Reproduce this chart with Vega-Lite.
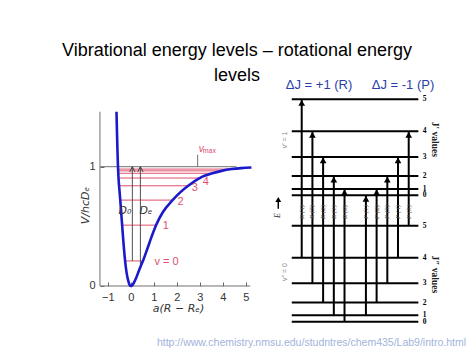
{
  "$schema": "https://vega.github.io/schema/vega-lite/v6.json",
  "width": 474,
  "height": 355,
  "autosize": {"type": "none"},
  "padding": 0,
  "background": "white",
  "config": {"view": {"stroke": null}, "font": "Liberation Sans"},
  "title": {"text": ["Vibrational energy levels – rotational energy", "levels"], "fontSize": 18, "fontWeight": "normal", "font": "Liberation Sans", "color": "#000000", "anchor": "middle", "offset": -85, "lineHeight": 25},
  "datasets": {
    "maxes": [
      {"x": -1.339, "x2": 5.2, "V": 0, "V2": 0},
      {"x": -1.339, "x2": -1.339, "V": 0, "V2": 1.461},
      {"x": -1.339, "x2": 4.6, "V": 1, "V2": 1},
      {"x": 2.91, "x2": 2.91, "V": 1, "V2": 1.1}
    ],
    "levels": [
      {"v": 0, "V": 0.21, "xl": -0.245, "xr": 0.53},
      {"v": 1, "V": 0.51, "xl": -0.375, "xr": 1.1},
      {"v": 2, "V": 0.72, "xl": -0.457, "xr": 1.82},
      {"v": 3, "V": 0.84, "xl": -0.51, "xr": 2.5},
      {"v": 4, "V": 0.905, "xl": -0.53, "xr": 3.0},
      {"v": 5, "V": 0.945, "xl": -0.54, "xr": 3.55},
      {"v": 6, "V": 0.965, "xl": -0.545, "xr": 3.95},
      {"v": 7, "V": 0.98, "xl": -0.55, "xr": 4.4}
    ],
    "curve": [
      {"x": -0.62, "V": 1.46}, {"x": -0.6, "V": 1.3}, {"x": -0.58, "V": 1.15}, {"x": -0.555, "V": 1.0},
      {"x": -0.53, "V": 0.9}, {"x": -0.49, "V": 0.8}, {"x": -0.44, "V": 0.68}, {"x": -0.39, "V": 0.55},
      {"x": -0.34, "V": 0.42}, {"x": -0.29, "V": 0.3}, {"x": -0.24, "V": 0.2}, {"x": -0.18, "V": 0.11},
      {"x": -0.11, "V": 0.045}, {"x": -0.05, "V": 0.01}, {"x": 0, "V": 0}, {"x": 0.06, "V": 0.005},
      {"x": 0.13, "V": 0.025}, {"x": 0.22, "V": 0.06}, {"x": 0.32, "V": 0.11}, {"x": 0.42, "V": 0.16},
      {"x": 0.53, "V": 0.21}, {"x": 0.7, "V": 0.3}, {"x": 0.9, "V": 0.41}, {"x": 1.1, "V": 0.51},
      {"x": 1.4, "V": 0.62}, {"x": 1.82, "V": 0.72}, {"x": 2.15, "V": 0.785}, {"x": 2.5, "V": 0.84},
      {"x": 3.0, "V": 0.905}, {"x": 3.55, "V": 0.945}, {"x": 3.95, "V": 0.965}, {"x": 4.4, "V": 0.98},
      {"x": 4.8, "V": 0.988}, {"x": 5.25, "V": 0.993}
    ],
    "darrows": [
      {"name": "D0", "x": 0.07, "V1": 0.21, "V2": 1.0},
      {"name": "De", "x": 0.42, "V1": 0.16, "V2": 1.0}
    ],
    "plabels": [
      {"t": "v = 0", "x": 1.56, "V": 0.2},
      {"t": "1", "x": 1.53, "V": 0.5},
      {"t": "2", "x": 2.17, "V": 0.7},
      {"t": "3", "x": 2.79, "V": 0.82},
      {"t": "4", "x": 3.26, "V": 0.875}
    ],
    "dlabels": [
      {"t": "D₀", "x": -0.25, "V": 0.625},
      {"t": "Dₑ", "x": 0.66, "V": 0.625}
    ],
    "vmaxv": [{"t": "v", "x": 3.07, "V": 1.15}],
    "vmaxs": [{"t": "max", "x": 3.42, "V": 1.135}],
    "jlev": [
      {"state": "upper", "J": 0, "E": 39.5}, {"state": "upper", "J": 1, "E": 41.5}, {"state": "upper", "J": 2, "E": 45.5},
      {"state": "upper", "J": 3, "E": 51.5}, {"state": "upper", "J": 4, "E": 59.5}, {"state": "upper", "J": 5, "E": 69.5},
      {"state": "lower", "J": 0, "E": 0}, {"state": "lower", "J": 1, "E": 2}, {"state": "lower", "J": 2, "E": 6},
      {"state": "lower", "J": 3, "E": 12}, {"state": "lower", "J": 4, "E": 20}, {"state": "lower", "J": 5, "E": 30}
    ],
    "trans": [
      {"label": "R (4)", "k": 0, "Elow": 20, "Eup": 69.5},
      {"label": "R (3)", "k": 1, "Elow": 12, "Eup": 59.5},
      {"label": "R (2)", "k": 2, "Elow": 6, "Eup": 51.5},
      {"label": "R (1)", "k": 3, "Elow": 2, "Eup": 45.5},
      {"label": "R (0)", "k": 4, "Elow": 0, "Eup": 41.5},
      {"label": "P (1)", "k": 6, "Elow": 2, "Eup": 39.5},
      {"label": "P (2)", "k": 7, "Elow": 6, "Eup": 41.5},
      {"label": "P (3)", "k": 8, "Elow": 12, "Eup": 45.5},
      {"label": "P (4)", "k": 9, "Elow": 20, "Eup": 51.5},
      {"label": "P (5)", "k": 10, "Elow": 30, "Eup": 59.5}
    ],
    "earrow": [{"k": -2.19, "E1": 35.3, "E2": 38.2}],
    "vlabels": [
      {"t": "v′ = 1", "k": -1.56, "E": 56.8},
      {"t": "v″ = 0", "k": -1.56, "E": 15.5}
    ],
    "jvalues": [
      {"t": "J′ values", "k": 12.5, "E": 57},
      {"t": "J″ values", "k": 12.5, "E": 14.8}
    ],
    "dj": [
      {"t": "ΔJ = +1 (R)", "k": 1.62, "E": 74},
      {"t": "ΔJ = -1 (P)", "k": 9.47, "E": 74}
    ],
    "elabel": [{"t": "E", "k": -2.19, "E": 33.2}]
  },
  "layer": [
    {
      "layer": [
        {
          "data": {"name": "maxes"},
          "mark": {"type": "rule", "color": "#707070", "strokeWidth": 1},
          "encoding": {
            "x": {"field": "x", "type": "quantitative", "scale": {"domain": [-5.687, 14.93], "nice": false, "zero": false},
              "axis": {"orient": "bottom", "values": [-1, 0, 1, 2, 3, 4, 5], "format": "d", "domain": false, "grid": false, "offset": -69, "tickSize": -4, "tickColor": "#666666",
                "labelColor": "#333333", "labelFontSize": 11, "labelPadding": 9, "labelFont": "Liberation Sans",
                "title": "a(R − Rₑ)", "titleFont": "DejaVu Sans", "titleFontStyle": "italic", "titleFontWeight": "normal", "titleFontSize": 11, "titleColor": "#333333",
                "titleX": 178, "titleY": 22, "titleBaseline": "middle", "titleAlign": "center"}},
            "x2": {"field": "x2"},
            "y": {"field": "V", "type": "quantitative", "scale": {"domain": [-0.5784, 2.3973], "nice": false, "zero": false},
              "axis": {"orient": "left", "values": [0, 1], "format": "d", "domain": false, "grid": false, "offset": -100, "tickSize": -4, "tickColor": "#666666",
                "labelColor": "#333333", "labelFontSize": 11, "labelPadding": 9, "labelFont": "Liberation Sans",
                "title": "V/hcDₑ", "titleFont": "DejaVu Sans", "titleFontStyle": "italic", "titleFontWeight": "normal", "titleFontSize": 11, "titleColor": "#333333",
                "titleX": -15, "titleY": 205, "titleAngle": 270, "titleBaseline": "middle", "titleAlign": "center"}},
            "y2": {"field": "V2"}
          }
        },
        {
          "data": {"name": "levels"},
          "mark": {"type": "rule", "color": "#e0506e", "strokeWidth": 1},
          "encoding": {
            "x": {"field": "xl", "type": "quantitative", "scale": {"domain": [-5.687, 14.93], "nice": false, "zero": false}},
            "x2": {"field": "xr"},
            "y": {"field": "V", "type": "quantitative", "scale": {"domain": [-0.5784, 2.3973], "nice": false, "zero": false}}
          }
        },
        {
          "data": {"name": "darrows"},
          "mark": {"type": "rule", "color": "#505050", "strokeWidth": 1},
          "encoding": {
            "x": {"field": "x", "type": "quantitative", "scale": {"domain": [-5.687, 14.93], "nice": false, "zero": false}},
            "y": {"field": "V1", "type": "quantitative", "scale": {"domain": [-0.5784, 2.3973], "nice": false, "zero": false}},
            "y2": {"field": "V2"}
          }
        },
        {
          "data": {"name": "darrows"},
          "mark": {"type": "point", "shape": "M-1,1L0,-1L1,1", "filled": false, "stroke": "#404040", "strokeWidth": 1, "size": 28, "yOffset": 2.6, "opacity": 1},
          "encoding": {
            "x": {"field": "x", "type": "quantitative", "scale": {"domain": [-5.687, 14.93], "nice": false, "zero": false}},
            "y": {"field": "V2", "type": "quantitative", "scale": {"domain": [-0.5784, 2.3973], "nice": false, "zero": false}}
          }
        },
        {
          "data": {"name": "curve"},
          "mark": {"type": "line", "color": "#1a1acc", "strokeWidth": 2.6, "interpolate": "monotone"},
          "encoding": {
            "x": {"field": "x", "type": "quantitative", "scale": {"domain": [-5.687, 14.93], "nice": false, "zero": false}},
            "y": {"field": "V", "type": "quantitative", "scale": {"domain": [-0.5784, 2.3973], "nice": false, "zero": false}}
          }
        },
        {
          "data": {"name": "plabels"},
          "mark": {"type": "text", "color": "#e0506e", "fontSize": 11, "align": "center", "baseline": "middle", "font": "Liberation Sans"},
          "encoding": {
            "x": {"field": "x", "type": "quantitative", "scale": {"domain": [-5.687, 14.93], "nice": false, "zero": false}},
            "y": {"field": "V", "type": "quantitative", "scale": {"domain": [-0.5784, 2.3973], "nice": false, "zero": false}},
            "text": {"field": "t"}
          }
        },
        {
          "data": {"name": "dlabels"},
          "mark": {"type": "text", "color": "#333333", "fontSize": 11, "fontStyle": "italic", "align": "center", "baseline": "middle", "font": "DejaVu Sans"},
          "encoding": {
            "x": {"field": "x", "type": "quantitative", "scale": {"domain": [-5.687, 14.93], "nice": false, "zero": false}},
            "y": {"field": "V", "type": "quantitative", "scale": {"domain": [-0.5784, 2.3973], "nice": false, "zero": false}},
            "text": {"field": "t"}
          }
        },
        {
          "data": {"name": "vmaxv"},
          "mark": {"type": "text", "color": "#e0506e", "fontSize": 10, "fontStyle": "italic", "align": "center", "baseline": "middle"},
          "encoding": {
            "x": {"field": "x", "type": "quantitative", "scale": {"domain": [-5.687, 14.93], "nice": false, "zero": false}},
            "y": {"field": "V", "type": "quantitative", "scale": {"domain": [-0.5784, 2.3973], "nice": false, "zero": false}},
            "text": {"field": "t"}
          }
        },
        {
          "data": {"name": "vmaxs"},
          "mark": {"type": "text", "color": "#e0506e", "fontSize": 7, "align": "center", "baseline": "middle"},
          "encoding": {
            "x": {"field": "x", "type": "quantitative", "scale": {"domain": [-5.687, 14.93], "nice": false, "zero": false}},
            "y": {"field": "V", "type": "quantitative", "scale": {"domain": [-0.5784, 2.3973], "nice": false, "zero": false}},
            "text": {"field": "t"}
          }
        }
      ]
    },
    {
      "layer": [
        {
          "data": {"name": "jlev"},
          "mark": {"type": "rule", "color": "#000000", "strokeWidth": 2},
          "encoding": {
            "x": {"datum": -0.93, "type": "quantitative", "scale": {"domain": [-28.196, 16.101], "nice": false, "zero": false},
              "axis": {"orient": "bottom", "domain": false, "ticks": false, "labels": false, "grid": false,
                "title": "http://www.chemistry.nmsu.edu/studntres/chem435/Lab9/intro.html", "titleFont": "Liberation Sans", "titleFontSize": 10.5, "titleFontWeight": "normal", "titleColor": "#9fb3dc",
                "titleX": 311, "titleY": -13, "titleBaseline": "middle", "titleAlign": "center"}},
            "x2": {"datum": 10.9},
            "y": {"field": "E", "type": "quantitative", "scale": {"domain": [-10.406, 100.53], "nice": false, "zero": false}, "axis": null}
          }
        },
        {
          "data": {"name": "jlev"},
          "mark": {"type": "text", "font": "Liberation Serif", "fontWeight": "bold", "fontSize": 7.5, "align": "left", "baseline": "middle", "color": "#000000"},
          "encoding": {
            "x": {"datum": 11.3, "type": "quantitative", "scale": {"domain": [-28.196, 16.101], "nice": false, "zero": false}},
            "y": {"field": "E", "type": "quantitative", "scale": {"domain": [-10.406, 100.53], "nice": false, "zero": false}},
            "text": {"field": "J"}
          }
        },
        {
          "data": {"name": "trans"},
          "mark": {"type": "rule", "color": "#000000", "strokeWidth": 2},
          "encoding": {
            "x": {"field": "k", "type": "quantitative", "scale": {"domain": [-28.196, 16.101], "nice": false, "zero": false}},
            "y": {"field": "Elow", "type": "quantitative", "scale": {"domain": [-10.406, 100.53], "nice": false, "zero": false}},
            "y2": {"field": "Eup"}
          }
        },
        {
          "data": {"name": "trans"},
          "mark": {"type": "point", "shape": "triangle-up", "filled": true, "color": "#000000", "size": 45, "yOffset": 3.5, "opacity": 1},
          "encoding": {
            "x": {"field": "k", "type": "quantitative", "scale": {"domain": [-28.196, 16.101], "nice": false, "zero": false}},
            "y": {"field": "Eup", "type": "quantitative", "scale": {"domain": [-10.406, 100.53], "nice": false, "zero": false}}
          }
        },
        {
          "data": {"name": "trans"},
          "mark": {"type": "text", "font": "Liberation Serif", "fontStyle": "italic", "fontSize": 7, "angle": 270, "align": "center", "baseline": "middle", "color": "#555555"},
          "encoding": {
            "x": {"field": "k", "type": "quantitative", "scale": {"domain": [-28.196, 16.101], "nice": false, "zero": false}},
            "y": {"datum": 34.3, "type": "quantitative", "scale": {"domain": [-10.406, 100.53], "nice": false, "zero": false}},
            "text": {"field": "label"}
          }
        },
        {
          "data": {"name": "earrow"},
          "mark": {"type": "rule", "color": "#000000", "strokeWidth": 1.5},
          "encoding": {
            "x": {"field": "k", "type": "quantitative", "scale": {"domain": [-28.196, 16.101], "nice": false, "zero": false}},
            "y": {"field": "E1", "type": "quantitative", "scale": {"domain": [-10.406, 100.53], "nice": false, "zero": false}},
            "y2": {"field": "E2"}
          }
        },
        {
          "data": {"name": "earrow"},
          "mark": {"type": "point", "shape": "triangle-up", "filled": true, "color": "#000000", "size": 35, "yOffset": 0, "opacity": 1},
          "encoding": {
            "x": {"field": "k", "type": "quantitative", "scale": {"domain": [-28.196, 16.101], "nice": false, "zero": false}},
            "y": {"field": "E2", "type": "quantitative", "scale": {"domain": [-10.406, 100.53], "nice": false, "zero": false}}
          }
        },
        {
          "data": {"name": "elabel"},
          "mark": {"type": "text", "font": "Liberation Serif", "fontStyle": "italic", "fontSize": 8, "angle": 270, "align": "center", "baseline": "middle", "color": "#333333"},
          "encoding": {
            "x": {"field": "k", "type": "quantitative", "scale": {"domain": [-28.196, 16.101], "nice": false, "zero": false}},
            "y": {"field": "E", "type": "quantitative", "scale": {"domain": [-10.406, 100.53], "nice": false, "zero": false}},
            "text": {"field": "t"}
          }
        },
        {
          "data": {"name": "vlabels"},
          "mark": {"type": "text", "font": "Liberation Sans", "fontSize": 7, "angle": 270, "align": "center", "baseline": "middle", "color": "#888888"},
          "encoding": {
            "x": {"field": "k", "type": "quantitative", "scale": {"domain": [-28.196, 16.101], "nice": false, "zero": false}},
            "y": {"field": "E", "type": "quantitative", "scale": {"domain": [-10.406, 100.53], "nice": false, "zero": false}},
            "text": {"field": "t"}
          }
        },
        {
          "data": {"name": "jvalues"},
          "mark": {"type": "text", "font": "Liberation Serif", "fontWeight": "bold", "fontSize": 9.5, "angle": 90, "align": "center", "baseline": "middle", "color": "#222222"},
          "encoding": {
            "x": {"field": "k", "type": "quantitative", "scale": {"domain": [-28.196, 16.101], "nice": false, "zero": false}},
            "y": {"field": "E", "type": "quantitative", "scale": {"domain": [-10.406, 100.53], "nice": false, "zero": false}},
            "text": {"field": "t"}
          }
        },
        {
          "data": {"name": "dj"},
          "mark": {"type": "text", "font": "Liberation Sans", "fontSize": 13, "align": "center", "baseline": "middle", "color": "#2b3fa8"},
          "encoding": {
            "x": {"field": "k", "type": "quantitative", "scale": {"domain": [-28.196, 16.101], "nice": false, "zero": false}},
            "y": {"field": "E", "type": "quantitative", "scale": {"domain": [-10.406, 100.53], "nice": false, "zero": false}},
            "text": {"field": "t"}
          }
        }
      ]
    }
  ],
  "resolve": {"scale": {"x": "independent", "y": "independent"}}
}
